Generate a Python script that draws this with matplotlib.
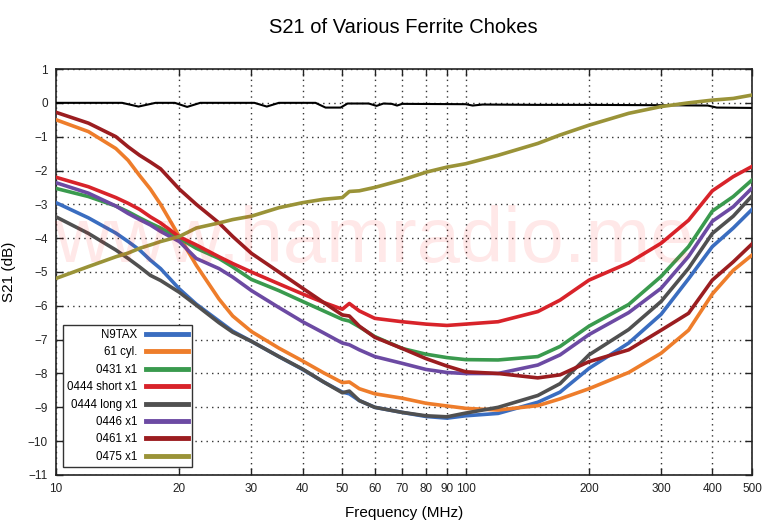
import numpy as np
import matplotlib.pyplot as plt
from matplotlib.ticker import FixedLocator, NullLocator

plt.rcParams['font.family'] = ['Liberation Sans', 'DejaVu Sans']

freq = [10, 12, 14, 15, 16, 17, 18, 20, 22, 25, 27, 30, 35, 40, 45, 50, 52, 55, 60,
        70, 80, 90, 100, 120, 150, 170, 200, 250, 300, 350, 400, 450, 500]

n9tax = [-2.95, -3.4, -3.85, -4.1, -4.35, -4.65, -4.9, -5.5, -5.95, -6.45, -6.75, -7.05,
         -7.5, -7.88, -8.25, -8.55, -8.6, -8.8, -9.0, -9.15, -9.27, -9.32, -9.25, -9.18,
         -8.85, -8.55, -7.85, -7.1, -6.25, -5.2, -4.25, -3.7, -3.15]
cyl61 = [-0.5, -0.85, -1.35, -1.7, -2.15, -2.55, -3.0, -3.95, -4.8, -5.8, -6.3, -6.76,
         -7.25, -7.63, -7.98, -8.27, -8.25, -8.45, -8.6, -8.73, -8.88, -8.96, -9.03, -9.08,
         -8.95, -8.75, -8.45, -7.97, -7.4, -6.72, -5.65, -4.95, -4.5]
m0431 = [-2.53, -2.77, -3.05, -3.22, -3.4, -3.56, -3.7, -4.0, -4.3, -4.6, -4.85, -5.22,
         -5.55, -5.87, -6.15, -6.4, -6.45, -6.62, -6.91, -7.26, -7.43, -7.53, -7.59, -7.6,
         -7.5, -7.2, -6.6, -5.96, -5.13, -4.25, -3.2, -2.77, -2.28]
m0444s = [-2.2, -2.48, -2.8, -2.97, -3.15, -3.37, -3.55, -3.96, -4.2, -4.55, -4.75, -5.0,
          -5.35, -5.65, -5.9, -6.1, -5.93, -6.15, -6.37, -6.47, -6.54, -6.58, -6.54, -6.47,
          -6.17, -5.83, -5.24, -4.73, -4.15, -3.47, -2.6, -2.18, -1.88]
m0444l = [-3.37, -3.86, -4.35, -4.6, -4.85, -5.1, -5.25, -5.6, -5.98, -6.5, -6.78, -7.05,
          -7.5, -7.87, -8.25, -8.57, -8.52, -8.8, -9.0, -9.15, -9.25, -9.28, -9.17, -9.0,
          -8.65, -8.3, -7.45, -6.7, -5.87, -4.89, -3.86, -3.35, -2.75]
m0446 = [-2.36, -2.67, -3.05, -3.27, -3.45, -3.61, -3.8, -4.1, -4.6, -4.9, -5.15, -5.55,
         -6.05, -6.47, -6.8, -7.1, -7.15, -7.3, -7.5, -7.7, -7.88, -7.97, -8.0, -8.0,
         -7.75, -7.45, -6.85, -6.2, -5.48, -4.54, -3.5, -3.07, -2.52]
m0461 = [-0.28, -0.6, -1.0, -1.3, -1.55, -1.75, -1.95, -2.55, -3.0, -3.55, -3.95, -4.45,
         -5.0, -5.48, -5.9, -6.27, -6.3, -6.6, -6.93, -7.26, -7.56, -7.78, -7.95, -8.0,
         -8.13, -8.04, -7.65, -7.3, -6.72, -6.22, -5.24, -4.7, -4.17]
m0475 = [-5.19, -4.84, -4.55, -4.44, -4.3, -4.2, -4.1, -3.95, -3.7, -3.55, -3.45, -3.35,
         -3.1, -2.95, -2.85, -2.8, -2.62, -2.6, -2.5, -2.28, -2.05, -1.9, -1.8, -1.55,
         -1.2, -0.95, -0.66, -0.31, -0.11, 0.0, 0.08, 0.13, 0.23]

# thru reference (no legend entry)
freq_ref = [10, 14.5, 15.9, 17.5, 19.5, 20.9, 22.5, 30.5, 32.7, 35, 43, 45.5, 49.5, 51.5,
            58, 60.6, 63, 66, 68, 70, 100, 104, 110, 150, 200, 300, 390, 410, 500]
thru = [0, 0, -0.11, 0, 0, -0.12, 0, 0, -0.11, 0, 0, -0.14, -0.14, -0.02, -0.02, -0.09,
        -0.02, -0.03, -0.08, -0.03, -0.04, -0.08, -0.05, -0.06, -0.06, -0.07, -0.08,
        -0.14, -0.15]

labels = ['N9TAX', '61 cyl.', '0431 x1', '0444 short x1', '0444 long x1', '0446 x1',
          '0461 x1', '0475 x1']
colors = ['#3a6dc0', '#ee7d2b', '#3a9a4e', '#d8232a', '#505050', '#6c4aa3', '#9b1d20',
          '#9a9338']
series = [n9tax, cyl61, m0431, m0444s, m0444l, m0446, m0461, m0475]
xticks = [10, 20, 30, 40, 50, 60, 70, 80, 90, 100, 200, 300, 400, 500]

fig = plt.figure(figsize=(7.68, 5.28), dpi=100)
ax = fig.add_axes([0.0729, 0.1004, 0.9063, 0.7689])

fig.text(0.07, 0.504, 'www.hamradio.me', fontsize=56, color='#ff0000', alpha=0.09,
         va='baseline', ha='left', zorder=1.5)

ax.plot(freq_ref, thru, color='black', lw=1.5, zorder=3)
for vals, lab, c in zip(series, labels, colors):
    ax.plot(freq, vals, color=c, lw=2.6, label=lab, zorder=3)

ax.set_xscale('log')
ax.set_xlim(10, 500)
ax.set_ylim(-11, 1)
ax.xaxis.set_major_locator(FixedLocator(xticks))
ax.xaxis.set_minor_locator(NullLocator())
ax.set_xticklabels([str(t) for t in xticks])
ax.set_yticks(np.arange(-11, 2, 1))
ax.tick_params(direction='in', length=5, width=1, top=True, right=True, labelsize=8.5,
               pad=6, colors='#222222')
ax.grid(True, linestyle=(0, (1, 3)), color='#333333', lw=1)
ax.set_axisbelow(True)
for s in ax.spines.values():
    s.set_linewidth(1.2)
    s.set_color('#222222')

ax.set_xlabel('Frequency (MHz)', fontsize=11, labelpad=8)
ax.set_ylabel('S21 (dB)', fontsize=11, labelpad=8)
fig.text(0.525, 0.947, 'S21 of Various Ferrite Chokes', fontsize=14.5, ha='center',
         va='center')

leg = ax.legend(loc='lower left', bbox_to_anchor=(0.01, 0.02), borderaxespad=0,
                markerfirst=False, fancybox=False, framealpha=1, edgecolor='#333333',
                fontsize=8.3, handlelength=3.6, labelspacing=0.47, handletextpad=0.8,
                borderpad=0.35)
leg.get_frame().set_linewidth(1)
for h in leg.get_lines():
    h.set_linewidth(3.5)

fig.savefig('out.png', dpi=100)
